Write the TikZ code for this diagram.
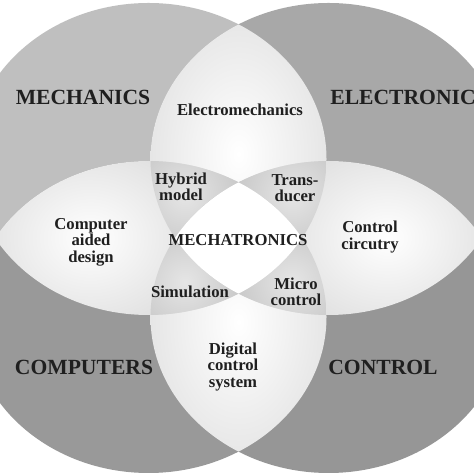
\documentclass[tikz,border=0pt]{standalone}
\usepackage{fontspec}
\setmainfont{Liberation Serif}
\usetikzlibrary{calc}
\definecolor{mechgray}{gray}{0.75}
\definecolor{elecgray}{gray}{0.66}
\definecolor{compgray}{gray}{0.60}
\definecolor{ctrlgray}{gray}{0.59}
\definecolor{lensedge}{gray}{0.80}
\definecolor{tripledge}{gray}{0.72}
\definecolor{tripmid}{gray}{0.90}
\definecolor{ink}{gray}{0.12}
\newcommand{\fieldname}[1]{{\fontsize{12.3}{13}\selectfont\bfseries #1}}
% the four fields, as ellipses
\def\mechfield{(2.97,6.30) ellipse [x radius=3.56, y radius=3.12]}
\def\elecfield{(6.57,6.30) ellipse [x radius=3.56, y radius=3.12]}
\def\compfield{(2.97,3.14) ellipse [x radius=3.56, y radius=3.12]}
\def\ctrlfield{(6.57,3.14) ellipse [x radius=3.56, y radius=3.12]}

\begin{document}
\begin{tikzpicture}
        \fill[white] (0,0) rectangle (9.48,9.48);
        \useasboundingbox (0,0) rectangle (9.48,9.48);

        \fill[mechgray] \mechfield;
        \fill[elecgray] \elecfield;
        \fill[compgray] \compfield;
        \fill[ctrlgray] \ctrlfield;

        % two fields
        \begin{scope}
            \clip \mechfield; \clip \elecfield;
            \shade[inner color=white, outer color=lensedge] (4.77,6.40) ellipse [x radius=3.6, y radius=5.6];
        \end{scope}
        \begin{scope}
            \clip \compfield; \clip \ctrlfield;
            \shade[inner color=white, outer color=lensedge] (4.77,3.04) ellipse [x radius=3.6, y radius=5.6];
        \end{scope}
        \begin{scope}
            \clip \mechfield; \clip \compfield;
            \shade[inner color=white, outer color=lensedge] (1.80,4.72) ellipse [x radius=3.8, y radius=3.2];
        \end{scope}
        \begin{scope}
            \clip \elecfield; \clip \ctrlfield;
            \shade[inner color=white, outer color=lensedge] (7.74,4.72) ellipse [x radius=3.8, y radius=3.2];
        \end{scope}

        % three fields
        \begin{scope}
            \clip \mechfield; \clip \elecfield; \clip \compfield;
            \shade[inner color=tripmid, outer color=tripledge] (3.70,5.58) circle (1.8);
        \end{scope}
        \begin{scope}
            \clip \mechfield; \clip \elecfield; \clip \ctrlfield;
            \shade[inner color=tripmid, outer color=tripledge] (5.84,5.58) circle (1.8);
        \end{scope}
        \begin{scope}
            \clip \mechfield; \clip \compfield; \clip \ctrlfield;
            \shade[inner color=tripmid, outer color=tripledge] (3.70,3.84) circle (1.8);
        \end{scope}
        \begin{scope}
            \clip \elecfield; \clip \compfield; \clip \ctrlfield;
            \shade[inner color=tripmid, outer color=tripledge] (5.84,3.84) circle (1.8);
        \end{scope}

        % all four
        \begin{scope}
            \clip \mechfield; \clip \elecfield; \clip \compfield;
            \fill[white] \ctrlfield;
        \end{scope}

        \node[text=ink] (mech) at (1.66,7.54) {\fieldname{MECHANICS}};
        \node[text=ink, anchor=west, inner sep=0pt] (elec) at (6.60,7.54) {\fieldname{ELECTRONIC}};
        \node[text=ink] (comp) at (1.68,2.14) {\fieldname{COMPUTERS}};
        \node[text=ink] (ctrl) at (7.66,2.14) {\fieldname{CONTROL}};

        \tikzset{sub/.style={text=ink, align=center, font=\fontsize{9.5}{9.4}\selectfont\bfseries}}
        \node[sub] (elmech) at (4.80,7.28) {Electromechanics};
        \node[sub] (hybrid) at (3.62,5.74) {Hybrid\\model};
        \node[sub] (trans) at (5.90,5.72) {Trans-\\ducer};
        \node[sub] (cad) at (1.82,4.64) {Computer\\aided\\design};
        \node[sub] (mtx) at (4.76,4.68) {MECHATRONICS};
        \node[sub] (circ) at (7.40,4.74) {Control\\circutry};
        \node[sub] (sim) at (3.80,3.64) {Simulation};
        \node[sub] (micro) at (5.92,3.64) {Micro\\control};
        \node[sub] (dcs) at (4.66,2.14) {Digital\\control\\system};
\end{tikzpicture}
\end{document}
